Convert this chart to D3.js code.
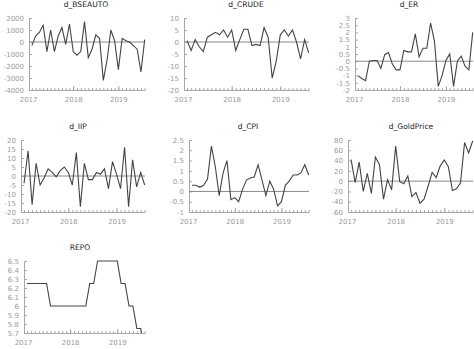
<!DOCTYPE html>
<html>
<head>
<meta charset="utf-8">
<script src="https://cdn.jsdelivr.net/npm/d3@7/dist/d3.min.js"></script>
<style>
  body { margin: 0; background: #fff; }
  svg { display: block; }
  text { font-family: "DejaVu Sans", sans-serif; }
</style>
</head>
<body>
<div id="chart"></div>
<script>
// monthly observations, 2017:02 - 2019:08
const dates = [
  "2017:02","2017:03","2017:04","2017:05","2017:06","2017:07","2017:08","2017:09","2017:10","2017:11","2017:12",
  "2018:01","2018:02","2018:03","2018:04","2018:05","2018:06","2018:07","2018:08","2018:09","2018:10","2018:11","2018:12",
  "2019:01","2019:02","2019:03","2019:04","2019:05","2019:06","2019:07","2019:08"
];
const years = [2017, 2018, 2019];

const d_BSEAUTO = [-300, 500, 800, 1400, -800, 1000, -800, 500, 1200, -200, 1500, -800, -1100, -800, 1700, -1300,
  -600, 600, 300, -3200, -1500, 1000, 100, -2300, 300, 100, 0, -300, -600, -2500, 200];
const d_CRUDE = [0.5, -3.5, 1, -2, -4, 2, 3, 4, 3, 5, 2, 5, -3.5, 1, 5.3, 5.3,
  -1.5, -1, -1.5, 6, 2, -15, -8, 3, 5, 2.5, 5, 0, -7, 1, -4.5];
const d_ER = [-1.0, -1.2, -1.35, 0.0, 0.05, 0.05, -0.5, 0.45, 0.6, -0.2, -0.6, -0.6, 0.75, 0.65, 0.65, 1.9,
  0.3, 0.9, 0.9, 2.65, 1.4, -1.75, -1.0, 0.05, 0.5, -1.75, 0.0, 0.35, -0.35, -0.6, 2.0];
const d_IIP = [-4, 14, -16, 7, -5, -1, 4, 2, -0.5, 3, 5, 2, -5, 13, -17, 7,
  -2, -2, 2, 1, 4, -7, 8, 1, -7, 16, -17, 9, -6, 2, -5];
const d_CPI = [0.3, 0.3, 0.2, 0.3, 0.6, 2.2, 1.2, -0.2, 0.9, 1.5, -0.4, -0.3, -0.5, 0.1, 0.55, 0.65,
  0.7, 1.3, 0.55, -0.2, 0.5, 0.1, -0.7, -0.5, 0.3, 0.5, 0.8, 0.8, 0.9, 1.3, 0.8];
const d_GoldPrice = [42, -3, 37, -20, 15, -24, 47, 32, -35, 3, -17, 68, -1, -5, 10, -30,
  -22, -43, -35, -10, 17, 7, 30, 41, 28, -18, -15, -3, 75, 55, 78];
const REPO = [6.25, 6.25, 6.25, 6.25, 6.25, 6.25, 6.0, 6.0, 6.0, 6.0, 6.0, 6.0, 6.0, 6.0, 6.0, 6.0,
  6.25, 6.25, 6.5, 6.5, 6.5, 6.5, 6.5, 6.5, 6.25, 6.25, 6.0, 6.0, 5.75, 5.75, 5.40];

// axis ranges and tick steps
const panels = [
  {name: "d_BSEAUTO",   values: d_BSEAUTO,   yMin: -4000, yMax: 2000, step: 1000, zero: true},
  {name: "d_CRUDE",     values: d_CRUDE,     yMin: -20,   yMax: 10,   step: 5,    zero: true},
  {name: "d_ER",        values: d_ER,        yMin: -2,    yMax: 3,    step: 0.5,  zero: true},
  {name: "d_IIP",       values: d_IIP,       yMin: -20,   yMax: 20,   step: 5,    zero: true},
  {name: "d_CPI",       values: d_CPI,       yMin: -1,    yMax: 2.5,  step: 0.5,  zero: true},
  {name: "d_GoldPrice", values: d_GoldPrice, yMin: -60,   yMax: 80,   step: 20,   zero: true},
  {name: "REPO",        values: REPO,        yMin: 5.7,   yMax: 6.5,  step: 0.1,  zero: false}
];

// layout of the 3x3 grid (gretl style multiple plot)
const width = 474, height = 349;
const colRight = [145, 309, 473];
const rowTop = [18, 140, 261];
const rowBottom = [90, 212, 333];
const axisLeft = [29, 184, 355, 21, 189, 348, 24];
const titleX = [86, 246, 409, 78, 248, 411, 80];

const axisColor = "#a8a8a8";
const labelColor = "#9a9a9a";
const lineColor = "#444";
const zeroColor = "#8a8a8a";

const toYear = s => +s.slice(0, 4) + (+s.slice(5) - 1) / 12;
const xValues = dates.map(toYear);

const svg = d3.select("#chart").append("svg")
    .attr("width", width)
    .attr("height", height);

panels.forEach((p, i) => {
    const col = i % 3, row = Math.floor(i / 3);
    const left = axisLeft[i], right = colRight[col];
    const top = rowTop[row], bottom = rowBottom[row];

    const x = d3.scaleLinear().domain([2017.02, 2019.59]).range([left, right]);
    const y = d3.scaleLinear().domain([p.yMin, p.yMax]).range([bottom, top]);

    const g = svg.append("g").attr("class", "panel");

    // title
    g.append("text")
        .attr("x", titleX[i])
        .attr("y", top - 11)
        .attr("text-anchor", "middle")
        .attr("font-size", 7.6)
        .attr("fill", "#222")
        .text(p.name);

    // y axis, ticks pointing inward
    const yTicks = d3.range(Math.round((p.yMax - p.yMin) / p.step) + 1)
        .map(k => +(p.yMin + k * p.step).toFixed(2));
    const ya = g.append("g")
        .attr("transform", `translate(${left},0)`)
        .call(d3.axisLeft(y)
            .tickValues(yTicks)
            .tickFormat(d => String(d))
            .tickSizeInner(-3)
            .tickSizeOuter(0)
            .tickPadding(5));

    // x axis: monthly minor ticks + year labels
    const xa = g.append("g")
        .attr("transform", `translate(0,${bottom})`)
        .call(d3.axisBottom(x)
            .tickValues(xValues)
            .tickFormat("")
            .tickSizeInner(-2)
            .tickSizeOuter(0));
    const xy = g.append("g")
        .attr("transform", `translate(0,${bottom})`)
        .call(d3.axisBottom(x)
            .tickValues(years)
            .tickFormat(d3.format("d"))
            .tickSizeInner(-4)
            .tickSizeOuter(0)
            .tickPadding(7.5));
    xy.select(".domain").remove();
    xy.selectAll(".tick").filter(d => d < x.domain()[0]).select("line").remove();

    [ya, xa, xy].forEach(a => {
        a.selectAll("path, line").attr("stroke", axisColor).attr("stroke-width", 1);
        a.selectAll("text").attr("fill", labelColor).attr("font-size", 7)
            .attr("font-family", "DejaVu Sans, sans-serif");
    });

    // zero line
    if (p.zero) {
        g.append("line")
            .attr("x1", left).attr("x2", right)
            .attr("y1", y(0)).attr("y2", y(0))
            .attr("stroke", zeroColor)
            .attr("stroke-width", 1);
    }

    // series, clipped to the plot box
    const clipId = "clip" + i;
    svg.append("clipPath").attr("id", clipId)
        .append("rect")
        .attr("x", left).attr("y", top - 1)
        .attr("width", right - left + 1).attr("height", bottom - top + 1);

    const line = d3.line()
        .x((d, k) => x(xValues[k]))
        .y(d => y(d));

    g.append("path")
        .datum(p.values)
        .attr("clip-path", `url(#${clipId})`)
        .attr("fill", "none")
        .attr("stroke", lineColor)
        .attr("stroke-width", 1.1)
        .attr("d", line);
});
</script>
</body>
</html>
